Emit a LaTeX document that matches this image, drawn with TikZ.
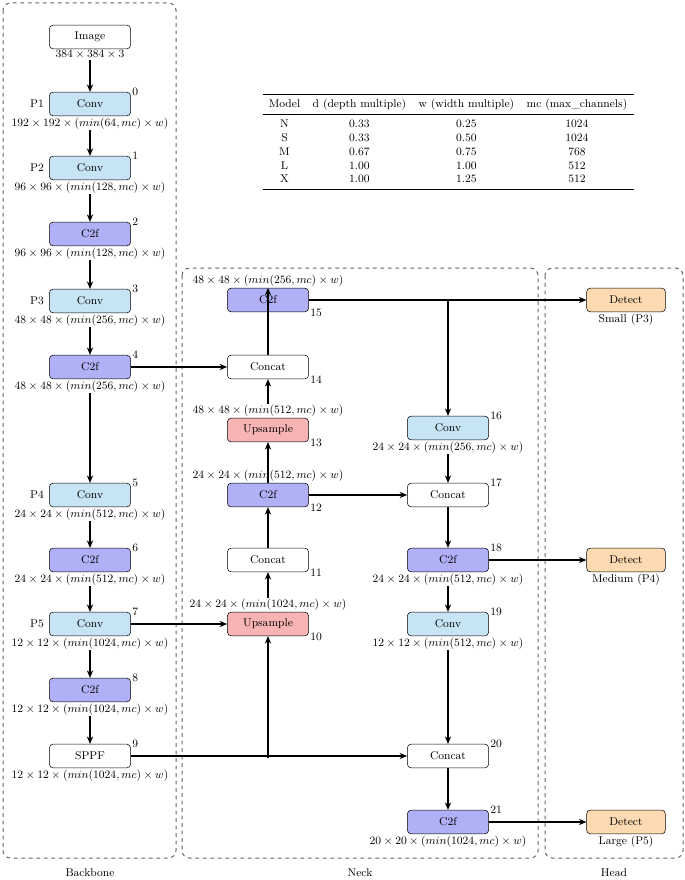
\documentclass[tikz,border=0pt]{standalone}
\usepackage{booktabs}
\usetikzlibrary{arrows.meta,positioning}
\definecolor{convc}{HTML}{C6E4F3}
\definecolor{c2fc}{HTML}{B0B0F7}
\definecolor{upc}{HTML}{F8B4B4}
\definecolor{detc}{HTML}{FDDAB2}
\begin{document}
\begin{tikzpicture}[x=0.8pt,y=-0.8pt,
 blk/.style={draw,rounded corners=3pt,minimum width=65pt,minimum height=19pt,inner sep=1pt,font=\small},
 conv/.style={blk,fill=convc},
 c2f/.style={blk,fill=c2fc},
 up/.style={blk,fill=upc},
 det/.style={blk,fill=detc,minimum width=63pt},
 plain/.style={blk,fill=white},
 lab/.style={font=\small,inner sep=1pt},
 idx/.style={font=\small,inner sep=1pt,anchor=south west},
 arr/.style={-{Stealth[length=6pt,width=5pt]},line width=1pt},
 grp/.style={draw=gray!80!black,dashed,rounded corners=6pt,thick}]
\useasboundingbox (0,0) rectangle (685,880);
\draw[grp] (3,3) rectangle (176,858);
\draw[grp] (182,268) rectangle (538,858);
\draw[grp] (545,268) rectangle (683,858);
\node[lab] at (90,873) {Backbone};
\node[lab] at (360,873) {Neck};
\node[lab] at (614,873) {Head};
% backbone
\node[plain] (img) at (90,37) {Image};
\node[lab,below=0pt of img] (limg) {$384\times384\times3$};
\node[conv] (n0) at (90,104) {Conv};
\node[lab,below=0pt of n0] (l0) {$192\times192\times(min(64,mc)\times w)$};
\node[conv] (n1) at (90,168) {Conv};
\node[lab,below=0pt of n1] (l1) {$96\times96\times(min(128,mc)\times w)$};
\node[c2f] (n2) at (90,234) {C2f};
\node[lab,below=0pt of n2] (l2) {$96\times96\times(min(128,mc)\times w)$};
\node[conv] (n3) at (90,301) {Conv};
\node[lab,below=0pt of n3] (l3) {$48\times48\times(min(256,mc)\times w)$};
\node[c2f] (n4) at (90,367) {C2f};
\node[lab,below=0pt of n4] (l4) {$48\times48\times(min(256,mc)\times w)$};
\node[conv] (n5) at (90,495) {Conv};
\node[lab,below=0pt of n5] (l5) {$24\times24\times(min(512,mc)\times w)$};
\node[c2f] (n6) at (90,560) {C2f};
\node[lab,below=0pt of n6] (l6) {$24\times24\times(min(512,mc)\times w)$};
\node[conv] (n7) at (90,624) {Conv};
\node[lab,below=0pt of n7] (l7) {$12\times12\times(min(1024,mc)\times w)$};
\node[c2f] (n8) at (90,690) {C2f};
\node[lab,below=0pt of n8] (l8) {$12\times12\times(min(1024,mc)\times w)$};
\node[plain] (n9) at (90,756) {SPPF};
\node[lab,below=0pt of n9] (l9) {$12\times12\times(min(1024,mc)\times w)$};
\foreach \n/\p in {n0/P1,n1/P2,n3/P3,n5/P4,n7/P5}{\node[lab,left=3pt of \n] (p\n) {\p};}
% neck col1
\node[c2f] (n15) at (268,300) {C2f};
\node[lab,above=0pt of n15] (l15) {$48\times48\times(min(256,mc)\times w)$};
\node[plain] (n14) at (268,367) {Concat};
\node[up] (n13) at (268,430) {Upsample};
\node[lab,above=0pt of n13] (l13) {$48\times48\times(min(512,mc)\times w)$};
\node[c2f] (n12) at (268,495) {C2f};
\node[lab,above=0pt of n12] (l12) {$24\times24\times(min(512,mc)\times w)$};
\node[plain] (n11) at (268,560) {Concat};
\node[up] (n10) at (268,624) {Upsample};
\node[lab,above=0pt of n10] (l10) {$24\times24\times(min(1024,mc)\times w)$};
% neck col2
\node[conv] (n16) at (448,428) {Conv};
\node[lab,below=0pt of n16] (l16) {$24\times24\times(min(256,mc)\times w)$};
\node[plain] (n17) at (448,495) {Concat};
\node[c2f] (n18) at (448,560) {C2f};
\node[lab,below=0pt of n18] (l18) {$24\times24\times(min(512,mc)\times w)$};
\node[conv] (n19) at (448,624) {Conv};
\node[lab,below=0pt of n19] (l19) {$12\times12\times(min(512,mc)\times w)$};
\node[plain] (n20) at (448,756) {Concat};
\node[c2f] (n21) at (448,822) {C2f};
\node[lab,below=0pt of n21] (l21) {$20\times20\times(min(1024,mc)\times w)$};
% head
\node[det] (d1) at (626,300) {Detect};
\node[lab,below=0pt of d1] {Small (P3)};
\node[det] (d2) at (626,560) {Detect};
\node[lab,below=0pt of d2] {Medium (P4)};
\node[det] (d3) at (626,822) {Detect};
\node[lab,below=0pt of d3] {Large (P5)};
% indices
\foreach \n/\i in {n0/0,n1/1,n2/2,n3/3,n4/4,n5/5,n6/6,n7/7,n8/8,n9/9,n16/16,n17/17,n18/18,n19/19,n20/20,n21/21}{\node[idx] at ([yshift=-4pt]\n.north east) {\i};}
\foreach \n/\i in {n15/15,n14/14,n13/13,n12/12,n11/11,n10/10}{\node[idx,anchor=north west] at ([yshift=4pt]\n.south east) {\i};}
% table
\node[font=\small,inner sep=0pt] (tab) at (448,142) {\setlength{\tabcolsep}{5pt}\begin{tabular}{cccc}
\toprule
Model & d (depth multiple) & w (width multiple) & mc (max\_channels)\\
\midrule
N & 0.33 & 0.25 & 1024\\
S & 0.33 & 0.50 & 1024\\
M & 0.67 & 0.75 & 768\\
L & 1.00 & 1.00 & 512\\
X & 1.00 & 1.25 & 512\\
\bottomrule
\end{tabular}};
% arrows backbone
\draw[arr] (limg) -- (n0);
\draw[arr] (l0) -- (n1);
\draw[arr] (l1) -- (n2);
\draw[arr] (l2) -- (n3);
\draw[arr] (l3) -- (n4);
\draw[arr] (l4) -- (n5);
\draw[arr] (l5) -- (n6);
\draw[arr] (l6) -- (n7);
\draw[arr] (l7) -- (n8);
\draw[arr] (l8) -- (n9);
% neck
\draw[arr] (n4) -- (n14);
\draw[arr] (n7) -- (n10);
\draw[arr] (n14) -- (l15);
\draw[arr] (l13) -- (n14);
\draw[arr] (n12) -- (n13);
\draw[arr] (n11) -- (n12);
\draw[arr] (l10) -- (n11);
\draw[arr] (n9.east) -- (n20.west);
\coordinate (br1) at (268,757.5);
\draw[arr] (br1) -- (n10);
\draw[arr] (n15) -- (d1);
\coordinate (br2) at (n16.north |- n15.east);
\draw[arr] (br2) -- (n16);
\draw[arr] (n12) -- (n17);
\draw[arr] (l16) -- (n17);
\draw[arr] (n17) -- (n18);
\draw[arr] (n18) -- (d2);
\draw[arr] (l18) -- (n19);
\draw[arr] (l19) -- (n20);
\draw[arr] (n20) -- (n21);
\draw[arr] (n21) -- (d3);
\end{tikzpicture}
\end{document}
